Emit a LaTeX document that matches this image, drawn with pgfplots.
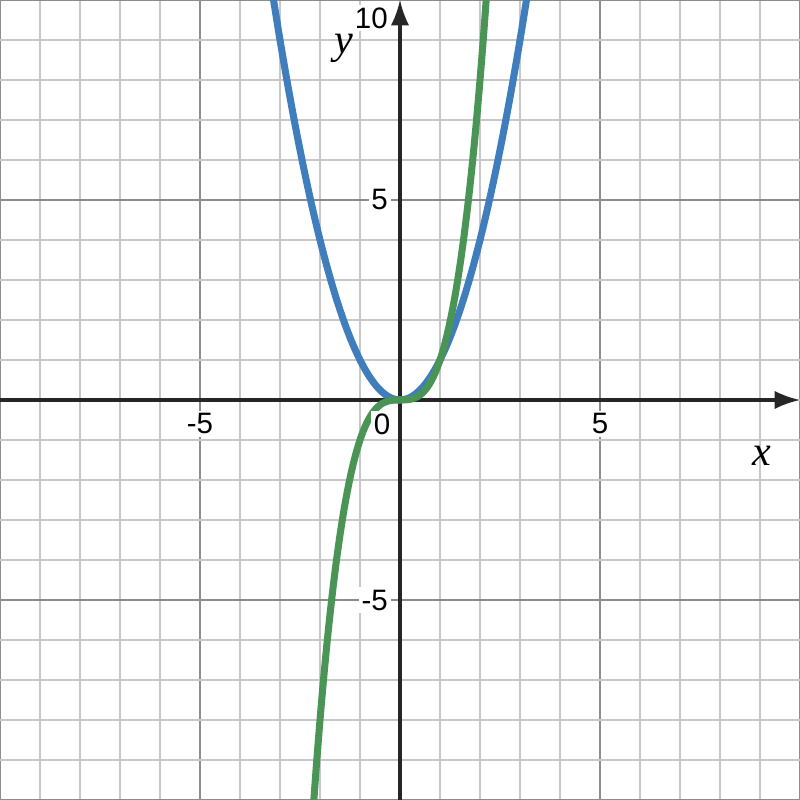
\documentclass[border=0pt]{standalone}
\usepackage{fontspec}
\setmainfont{Liberation Sans}
\newfontfamily\serif{Liberation Serif}
\usepackage{pgfplots}
\pgfplotsset{compat=1.18}
\usetikzlibrary{arrows.meta}

\definecolor{curveblue}{HTML}{3F7DBD}
\definecolor{curvegreen}{HTML}{4A9555}

\begin{document}
\begin{tikzpicture}
    \begin{axis}[
        scale only axis,
        width=10cm,
        height=10cm,
        xmin=-10, xmax=10,
        ymin=-10, ymax=10,
        axis lines=middle,
        axis line style={line width=1.1pt, black!85, -{Latex[length=9pt,width=6.5pt]}},
        xtick={-10,-5,0,5,10},
        ytick={-10,-5,0,5,10},
        minor xtick={-9,-8,...,9},
        minor ytick={-9,-8,...,9},
        xticklabels={},
        yticklabels={},
        major tick length=0pt,
        minor tick length=0pt,
        grid=both,
        major grid style={line width=0.7pt, black!45},
        minor grid style={line width=0.5pt, black!22},
        clip=true,
    ]
        % y = x^2
        \addplot[curveblue, line width=2.5pt, smooth] coordinates {
            (-3.3,10.89) (-3.2,10.24) (-3.0,9.00) (-2.8,7.84) (-2.6,6.76)
            (-2.4,5.76) (-2.2,4.84) (-2.0,4.00) (-1.8,3.24) (-1.6,2.56)
            (-1.4,1.96) (-1.2,1.44) (-1.0,1.00) (-0.8,0.64) (-0.6,0.36)
            (-0.4,0.16) (-0.2,0.04) (0,0) (0.2,0.04) (0.4,0.16) (0.6,0.36)
            (0.8,0.64) (1.0,1.00) (1.2,1.44) (1.4,1.96) (1.6,2.56) (1.8,3.24)
            (2.0,4.00) (2.2,4.84) (2.4,5.76) (2.6,6.76) (2.8,7.84) (3.0,9.00)
            (3.2,10.24) (3.3,10.89)
        };
        % y = x^3
        \addplot[curvegreen, line width=2.5pt, smooth] coordinates {
            (-2.2,-10.648) (-2.1,-9.261) (-2.0,-8.000) (-1.9,-6.859) (-1.8,-5.832)
            (-1.7,-4.913) (-1.6,-4.096) (-1.5,-3.375) (-1.4,-2.744) (-1.3,-2.197)
            (-1.2,-1.728) (-1.1,-1.331) (-1.0,-1.000) (-0.9,-0.729) (-0.8,-0.512)
            (-0.7,-0.343) (-0.6,-0.216) (-0.5,-0.125) (-0.4,-0.064) (-0.3,-0.027)
            (-0.2,-0.008) (-0.1,-0.001) (0,0) (0.1,0.001) (0.2,0.008) (0.3,0.027)
            (0.4,0.064) (0.5,0.125) (0.6,0.216) (0.7,0.343) (0.8,0.512) (0.9,0.729)
            (1.0,1.000) (1.1,1.331) (1.2,1.728) (1.3,2.197) (1.4,2.744) (1.5,3.375)
            (1.6,4.096) (1.7,4.913) (1.8,5.832) (1.9,6.859) (2.0,8.000) (2.1,9.261)
            (2.2,10.648)
        };
        % tick labels
        \node[fill=white, inner sep=1pt] at (axis cs:-5,-0.6) {\fontsize{10.5}{12}\selectfont -5};
        \node[fill=white, inner sep=1pt] at (axis cs:5,-0.6) {\fontsize{10.5}{12}\selectfont 5};
        \node[fill=white, inner sep=1pt] at (axis cs:-0.45,-0.6) {\fontsize{10.5}{12}\selectfont 0};
        \node[fill=white, inner sep=1pt, anchor=east] at (axis cs:-0.22,5) {\fontsize{10.5}{12}\selectfont 5};
        \node[fill=white, inner sep=1pt, anchor=east] at (axis cs:-0.22,-5) {\fontsize{10.5}{12}\selectfont -5};
        \node[fill=white, inner sep=1pt, anchor=east] at (axis cs:-0.22,9.55) {\fontsize{10.5}{12}\selectfont 10};
        % axis labels
        \node at (axis cs:-1.4,8.8) {\serif\itshape\fontsize{15}{17}\selectfont y};
        \node at (axis cs:9.05,-1.4) {\serif\itshape\fontsize{15}{17}\selectfont x};
    \end{axis}
    \pgfresetboundingbox
    \path (current axis.south west) rectangle (current axis.north east);
\end{tikzpicture}
\end{document}
